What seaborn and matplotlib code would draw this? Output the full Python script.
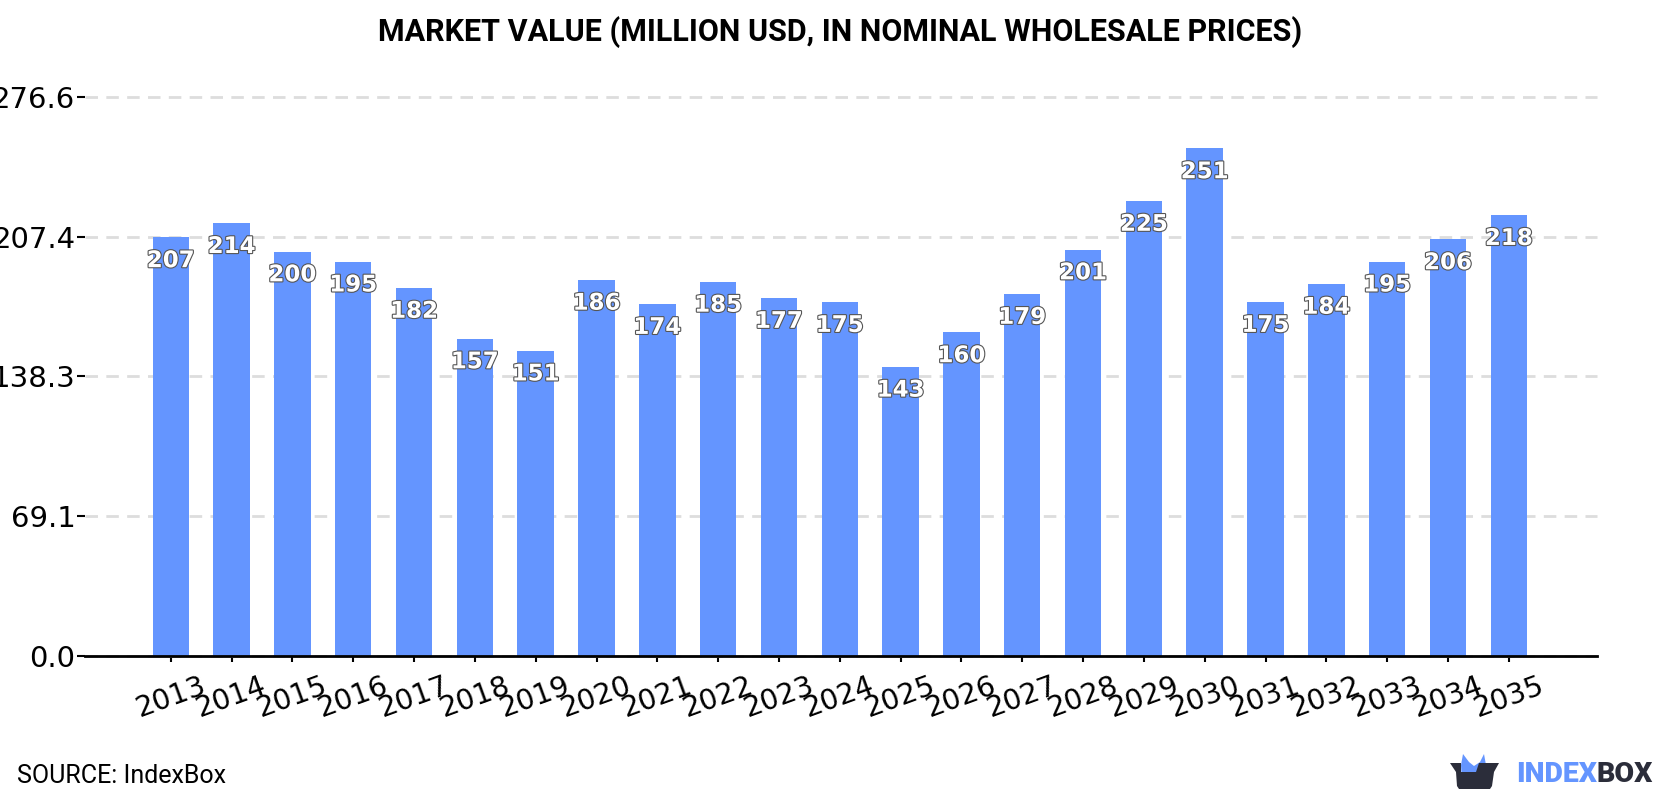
import matplotlib
matplotlib.use("Agg")
import matplotlib.pyplot as plt
import matplotlib.patheffects as pe
from matplotlib.patches import Polygon
import pandas as pd
import seaborn as sns

years = list(range(2013, 2036))
market_value = [207, 214, 200, 195, 182, 157, 151, 186, 174, 185, 177, 175,
                143, 160, 179, 201, 225, 251, 175, 184, 195, 206, 218]
y_ticks = [0.0, 69.1, 138.3, 207.4, 276.6]

BLUE = "#6495FF"
DARK = "#2B2D3A"

sns.set_theme(style="white")
plt.rcParams["font.family"] = ["DejaVu Sans"]

df = pd.DataFrame({"year": [str(y) for y in years], "value": market_value})

fig = plt.figure(figsize=(16.8, 8), dpi=100)
ax = fig.add_axes([85 / 1680, 1 - 656 / 800, (1597 - 85) / 1680, (656 - 96.7) / 800])

sns.barplot(data=df, x="year", y="value", color=BLUE, saturation=1, width=0.6,
            linewidth=0, ax=ax, zorder=3)

ax.set_xlim(-1.41, 23.45)
ax.set_ylim(0, 276.6)
ax.set_xlabel("")
ax.set_ylabel("")
ax.set_yticks(y_ticks)
ax.set_yticklabels([f"{v:.1f}" for v in y_ticks])
ax.yaxis.grid(True, color="#DDDDDD", linestyle=(0, (4.5, 3)), linewidth=2)
ax.xaxis.grid(False)
ax.set_axisbelow(True)
ax.tick_params(axis="y", length=5.8, width=1.5, color="black", labelsize=21, pad=1, left=True, labelcolor="black")
ax.tick_params(axis="x", length=4.3, width=1.5, color="black", labelsize=20.5, pad=6.7, bottom=True,
               labelrotation=20, labelcolor="black")
for side in ("top", "right", "left"):
    ax.spines[side].set_visible(False)
ax.spines["bottom"].set_color("black")
ax.spines["bottom"].set_linewidth(2)
ax.spines["bottom"].set_zorder(6)
for gridline in ax.get_ygridlines():
    gridline.set_clip_on(False)

for i, v in enumerate(market_value):
    ax.text(i, v - 11.5, str(v), ha="center", va="center", color="white", fontsize=16.5,
            fontweight="bold", zorder=5,
            path_effects=[pe.withStroke(linewidth=1.6, foreground="#555555")])

fig.text(0.5, 1 - 32 / 800, "MARKET VALUE (MILLION USD, IN NOMINAL WHOLESALE PRICES)",
         ha="center", va="center", fontsize=22, fontweight="bold", family="Roboto", color="black")
fig.text(17 / 1680, 1 - 776 / 800, "SOURCE: IndexBox", ha="left", va="center",
         fontsize=18, family="Roboto", color="black")

# Logo: box with a blue crown, then the wordmark
def to_fig(points):
    return [(x / 1680, 1 - y / 800) for x, y in points]

crown = Polygon(to_fig([(1461, 765), (1463, 754), (1469, 762), (1474, 766), (1480, 762),
                        (1484, 754), (1486, 765), (1486, 772), (1476, 773), (1473, 784), (1462, 784)]),
                closed=True, transform=fig.transFigure, facecolor=BLUE, edgecolor="none", zorder=2)
box = Polygon(to_fig([(1450, 763), (1461, 763), (1461, 772), (1476, 772),
                      (1479, 763), (1499, 763), (1494, 772), (1492, 786), (1490, 789),
                      (1459, 789), (1457, 786), (1456, 772)]),
              closed=True, transform=fig.transFigure, facecolor=DARK, edgecolor="none", zorder=3)
fig.add_artist(crown)
fig.add_artist(box)
fig.text(1516 / 1680, 1 - 774.5 / 800, "INDEX", ha="left", va="center", fontsize=20.5,
         fontweight="heavy", family="Roboto", color=BLUE)
fig.text(1597 / 1680, 1 - 774.5 / 800, "BOX", ha="left", va="center", fontsize=20.5,
         fontweight="heavy", family="Roboto", color=DARK)

fig.savefig("out.png", dpi=100, facecolor="white")
